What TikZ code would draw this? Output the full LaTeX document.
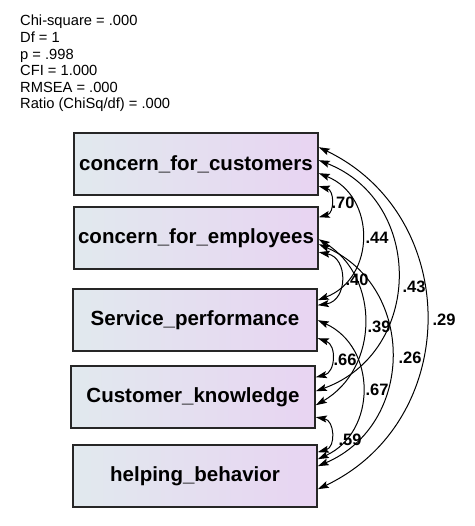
\documentclass[tikz,border=0pt]{standalone}
\usepackage{fontspec}
\setmainfont{Liberation Sans}
\usetikzlibrary{calc,arrows.meta}
\definecolor{boxleft}{RGB}{225,233,238}
\definecolor{boxright}{RGB}{232,212,242}
\begin{document}
\begin{tikzpicture}[x=1pt,y=1pt,
 varbox/.style={draw=black!85, line width=1.6pt, left color=boxleft, right color=boxright,
   minimum width=244pt, minimum height=62pt, inner sep=0pt,
   font=\fontsize{20.5}{24}\selectfont\bfseries},
 fitline/.style={anchor=base west, inner sep=0pt, font=\fontsize{14.7}{16.7}\selectfont},
 cov/.style={draw=black, line width=1pt,
   {Stealth[length=11pt,width=7pt,inset=2pt]}-{Stealth[length=11pt,width=7pt,inset=2pt]}},
 est/.style={inner sep=0pt, font=\fontsize{16.5}{18}\selectfont\bfseries}]
\fill[white] (0,0) rectangle (474,-526);
\useasboundingbox (0,0) rectangle (474,-526);

% fit statistics
\node[fitline] (f1) at (20,-26)  {Chi-square = .000};
\node[fitline] (f2) at (20,-42.6) {Df = 1};
\node[fitline] (f3) at (20,-59.2) {p = .998};
\node[fitline] (f4) at (20,-75.8) {CFI = 1.000};
\node[fitline] (f5) at (20,-92.4) {RMSEA = .000};
\node[fitline] (f6) at (20,-109) {Ratio (ChiSq/df) = .000};

% variables
\node[varbox] (b1) at (196,-164) {concern\_for\_customers};
\node[varbox] (b2) at (196,-238) {concern\_for\_employees};
\node[varbox] (b3) at (195,-320) {Service\_performance};
\node[varbox] (b4) at (193,-397) {Customer\_knowledge};
\node[varbox] (b5) at (195,-476) {helping\_behavior};

% attachment points
\coordinate (c1a) at ($(b1.north east)+(0,-15)$);
\coordinate (c1b) at ($(b1.north east)+(0,-28)$);
\coordinate (c1c) at ($(b1.north east)+(0,-41)$);
\coordinate (c1d) at ($(b1.north east)+(0,-54)$);
\coordinate (c2a) at ($(b2.north east)+(0,-11)$);
\coordinate (c2b) at ($(b2.north east)+(0,-33)$);
\coordinate (c2c) at ($(b2.north east)+(0,-38)$);
\coordinate (c2d) at ($(b2.north east)+(0,-46)$);
\coordinate (c3a) at ($(b3.north east)+(0,-12)$);
\coordinate (c3b) at ($(b3.north east)+(0,-17)$);
\coordinate (c3c) at ($(b3.north east)+(0,-32)$);
\coordinate (c3d) at ($(b3.north east)+(0,-50)$);
\coordinate (c4a) at ($(b4.north east)+(0,-12)$);
\coordinate (c4b) at ($(b4.north east)+(0,-26)$);
\coordinate (c4c) at ($(b4.north east)+(0,-40)$);
\coordinate (c4d) at ($(b4.north east)+(0,-52)$);
\coordinate (c5a) at ($(b5.north east)+(0,-8)$);
\coordinate (c5b) at ($(b5.north east)+(0,-15)$);
\coordinate (c5c) at ($(b5.north east)+(0,-22)$);
\coordinate (c5d) at ($(b5.north east)+(0,-45)$);

% covariances
\draw[cov] (c1d) to[bend left=75, looseness=1.35] (c2a);
\draw[cov] (c1c) to[bend left=68.6, looseness=1.25] (c3a);
\draw[cov] (c1b) to[bend left=69.4, looseness=1.26] (c4b);
\draw[cov] (c1a) to[bend left=64.5, looseness=1.19] (c5d);
\draw[cov] (c2d) to[bend left=80.5, looseness=1.46] (c3b);
\draw[cov] (c2b) to[bend left=59, looseness=1.12] (c4c);
\draw[cov] (c2c) to[bend left=66.6, looseness=1.22] (c5c);
\draw[cov] (c3d) to[bend left=73.7, looseness=1.33] (c4a);
\draw[cov] (c3c) to[bend left=65.5, looseness=1.20] (c5b);
\draw[cov] (c4d) to[bend left=77.3, looseness=1.39] (c5a);

% estimates
\node[est] (l70) at (343,-203) {.70};
\node[est] (l44) at (377,-238) {.44};
\node[est] (l40) at (357,-280) {.40};
\node[est] (l43) at (414,-287) {.43};
\node[est] (l39) at (379,-327) {.39};
\node[est] (l29) at (444,-320) {.29};
\node[est] (l66) at (345,-360) {.66};
\node[est] (l26) at (410,-358) {.26};
\node[est] (l67) at (377,-390) {.67};
\node[est] (l59) at (350,-440) {.59};
\end{tikzpicture}
\end{document}
